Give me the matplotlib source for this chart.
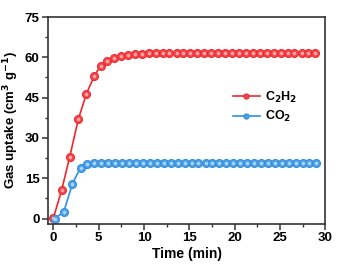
import matplotlib.pyplot as plt
from matplotlib.ticker import MultipleLocator

plt.rcParams.update({
    "font.family": "Liberation Sans",
    "font.weight": "bold",
    "mathtext.default": "bf"})

# C2H2 uptake vs time
t_c2h2 = [0.0, 0.9, 1.8, 2.75, 3.65, 4.5, 5.2, 5.95, 6.7, 7.45, 8.2, 9.0,
          9.75, 10.5, 11.3, 12.05, 12.8, 13.6, 14.35, 15.1, 15.9, 16.65,
          17.4, 18.2, 18.95, 19.7, 20.5, 21.25, 22.0, 22.8, 23.55, 24.3,
          25.1, 25.85, 26.6, 27.4, 28.15, 28.9]
q_c2h2 = [0.3, 10.5, 23.0, 37.0, 46.5, 53.0, 56.8, 58.7, 59.9, 60.5, 61.0,
          61.2, 61.4, 61.5, 61.5, 61.6, 61.6, 61.6, 61.7, 61.7, 61.7, 61.7,
          61.7, 61.7, 61.7, 61.7, 61.7, 61.7, 61.7, 61.7, 61.7, 61.7, 61.7,
          61.7, 61.7, 61.7, 61.7, 61.7]

# CO2 uptake vs time
t_co2 = [0.2, 1.15, 2.1, 3.0, 3.75, 4.5, 5.3, 6.05, 6.8, 7.6, 8.35, 9.1,
         9.9, 10.65, 11.4, 12.2, 12.95, 13.7, 14.5, 15.25, 16.0, 16.8,
         17.55, 18.3, 19.1, 19.85, 20.6, 21.4, 22.15, 22.9, 23.7, 24.45,
         25.2, 26.0, 26.75, 27.5, 28.2, 28.95]
q_co2 = [0.0, 2.6, 13.0, 19.0, 20.5, 20.6, 20.6, 20.6, 20.6, 20.6, 20.6,
         20.6, 20.6, 20.6, 20.6, 20.6, 20.6, 20.6, 20.6, 20.6, 20.6, 20.6,
         20.6, 20.6, 20.6, 20.6, 20.6, 20.6, 20.6, 20.6, 20.6, 20.6, 20.6,
         20.6, 20.6, 20.6, 20.6, 20.6]

fig = plt.figure(figsize=(3.38, 2.66), dpi=100)
ax = fig.add_axes([0.142, 0.158, 0.820, 0.778])

red = "#f0282d"
blue = "#2f8fe0"
ax.plot(t_c2h2, q_c2h2, "-o", color=red, lw=1.2, ms=5.8,
        mfc="#f24448", mec=red, mew=0.7, label=r"C$_2$H$_2$")
ax.plot(t_co2, q_co2, "-o", color=blue, lw=1.2, ms=5.8,
        mfc="#4a9ee6", mec=blue, mew=0.7, label=r"CO$_2$")
# faint highlight on each marker
ax.plot(t_c2h2, q_c2h2, "o", color="#fbb5b7", ms=1.6, alpha=0.8)
ax.plot(t_co2, q_co2, "o", color="#b8dcf8", ms=1.6, alpha=0.8)

ax.set_xlim(-0.6, 30)
ax.set_ylim(-2, 75)
ax.xaxis.set_major_locator(MultipleLocator(5))
ax.xaxis.set_minor_locator(MultipleLocator(2.5))
ax.yaxis.set_major_locator(MultipleLocator(15))
ax.yaxis.set_minor_locator(MultipleLocator(7.5))
ax.tick_params(which="major", length=4, width=1.1, labelsize=9.5,
               color="#333333", pad=2)
ax.tick_params(which="minor", length=2.5, width=1.0, color="#333333")
for s in ax.spines.values():
    s.set_linewidth(1.2)
    s.set_color("#333333")

ax.set_xlabel("Time (min)", fontsize=10, fontweight="bold", labelpad=2)
ax.set_ylabel(r"Gas uptake (cm$^3$ g$^{-1}$)", fontsize=9.5,
              fontweight="bold", labelpad=3)

ax.legend(loc="center right", bbox_to_anchor=(0.94, 0.565), frameon=False,
          fontsize=9, handlelength=2.2, markerscale=0.65, handletextpad=0.4,
          labelspacing=0.35)

fig.savefig("out.png", dpi=100)
